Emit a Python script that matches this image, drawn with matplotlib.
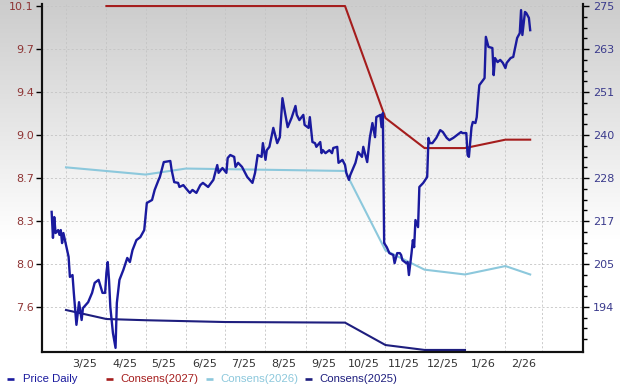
import numpy as np
import pandas as pd
import matplotlib
matplotlib.use("Agg")
import matplotlib.pyplot as plt
from matplotlib.lines import Line2D
from matplotlib.ticker import FixedLocator, NullFormatter

# ---------------- data ----------------
price_dates = [
    "2025-02-18", "2025-02-19", "2025-02-20", "2025-02-21", "2025-02-23", "2025-02-24", "2025-02-25",
    "2025-02-26", "2025-02-27", "2025-03-01", "2025-03-03", "2025-03-04", "2025-03-06", "2025-03-07",
    "2025-03-09", "2025-03-11", "2025-03-13", "2025-03-14", "2025-03-18", "2025-03-21", "2025-03-23",
    "2025-03-26", "2025-03-29", "2025-03-31", "2025-04-01", "2025-04-02", "2025-04-03", "2025-04-04",
    "2025-04-06", "2025-04-08", "2025-04-09", "2025-04-11", "2025-04-14", "2025-04-17", "2025-04-19",
    "2025-04-21", "2025-04-24", "2025-04-27", "2025-04-30", "2025-05-02", "2025-05-06", "2025-05-08",
    "2025-05-11", "2025-05-12", "2025-05-15", "2025-05-20", "2025-05-21", "2025-05-23", "2025-05-26",
    "2025-05-27", "2025-05-30", "2025-06-02", "2025-06-04", "2025-06-06", "2025-06-09", "2025-06-12",
    "2025-06-14", "2025-06-18", "2025-06-22", "2025-06-25", "2025-06-26", "2025-06-29", "2025-07-02",
    "2025-07-03", "2025-07-05", "2025-07-08", "2025-07-09", "2025-07-11", "2025-07-14", "2025-07-18",
    "2025-07-22", "2025-07-24", "2025-07-26", "2025-07-29", "2025-07-30", "2025-08-01", "2025-08-02",
    "2025-08-04", "2025-08-07", "2025-08-08", "2025-08-10", "2025-08-12", "2025-08-14", "2025-08-16",
    "2025-08-18", "2025-08-21", "2025-08-24", "2025-08-25", "2025-08-27", "2025-08-30", "2025-08-31",
    "2025-09-03", "2025-09-04", "2025-09-06", "2025-09-08", "2025-09-09", "2025-09-12", "2025-09-13",
    "2025-09-14", "2025-09-16", "2025-09-19", "2025-09-21", "2025-09-22", "2025-09-25", "2025-09-26",
    "2025-09-29", "2025-10-01", "2025-10-02", "2025-10-04", "2025-10-05", "2025-10-09", "2025-10-11",
    "2025-10-14", "2025-10-15", "2025-10-18", "2025-10-20", "2025-10-22", "2025-10-24", "2025-10-25",
    "2025-10-28", "2025-10-29", "2025-10-30", "2025-10-31", "2025-11-02", "2025-11-04", "2025-11-07",
    "2025-11-08", "2025-11-10", "2025-11-12", "2025-11-13", "2025-11-14", "2025-11-17", "2025-11-18",
    "2025-11-19", "2025-11-21", "2025-11-22", "2025-11-23", "2025-11-24", "2025-11-26", "2025-11-27",
    "2025-11-30", "2025-12-03", "2025-12-04", "2025-12-05", "2025-12-07", "2025-12-10", "2025-12-13",
    "2025-12-15", "2025-12-18", "2025-12-20", "2025-12-23", "2025-12-26", "2025-12-29", "2025-12-30",
    "2026-01-02", "2026-01-03", "2026-01-04", "2026-01-06", "2026-01-07", "2026-01-09", "2026-01-10",
    "2026-01-11", "2026-01-12", "2026-01-15", "2026-01-16", "2026-01-17", "2026-01-19", "2026-01-22",
    "2026-01-23", "2026-01-24", "2026-01-26", "2026-01-28", "2026-01-30", "2026-02-01", "2026-02-02",
    "2026-02-05", "2026-02-07", "2026-02-10", "2026-02-12", "2026-02-13", "2026-02-14", "2026-02-16",
    "2026-02-17", "2026-02-19", "2026-02-20",
]
price_values = [
    219.6, 212.6, 218.2, 213.9, 214.7, 213.4, 214.7,
    211.2, 213.9, 210.7, 207.5, 202.1, 202.6, 197.8,
    189.2, 195.3, 190.5, 193.7, 195.3, 197.8, 200.5,
    201.3, 197.8, 197.8, 203.2, 206.1, 201.3, 194.0,
    187.0, 183.0, 195.1, 201.3, 204.0, 207.2, 206.1,
    209.3, 212.0, 212.8, 214.7, 222.0, 222.8, 225.5,
    228.2, 229.0, 233.0, 233.3, 230.9, 227.6, 227.4,
    226.3, 226.8, 225.5, 224.7, 225.5, 224.7, 226.8,
    227.4, 226.3, 228.2, 232.2, 230.1, 231.4, 230.1,
    234.1, 234.9, 234.4, 231.7, 232.8, 231.7, 229.0,
    227.4, 230.1, 234.9, 234.4, 238.1, 233.6, 236.2,
    237.1, 242.2, 240.8, 238.1, 239.7, 250.2, 246.2,
    242.4, 244.9, 248.1, 245.7, 244.3, 245.7, 243.0,
    242.2, 245.1, 238.4, 238.1, 237.1, 238.4, 235.4,
    236.2, 235.4, 236.2, 235.4, 236.8, 237.1, 232.8,
    233.6, 232.2, 230.1, 228.2, 229.5, 232.8, 235.7,
    234.4, 237.1, 233.0, 239.5, 243.5, 239.7, 245.1,
    245.7, 242.4, 246.2, 211.2, 210.1, 208.5, 208.0,
    205.8, 208.5, 208.5, 208.0, 206.6, 205.8, 206.1,
    202.6, 208.5, 212.0, 210.1, 217.4, 215.5, 226.3,
    227.4, 229.0, 239.5, 238.1, 238.1, 239.5, 241.6,
    241.1, 239.5, 238.9, 239.5, 240.3, 241.1, 240.8,
    240.8, 234.9, 234.4, 242.4, 243.8, 243.5, 245.1,
    249.7, 253.7, 255.1, 255.6, 266.7, 264.0, 263.7,
    256.4, 261.0, 259.9, 260.5, 259.7, 258.3, 259.7,
    261.0, 261.3, 266.4, 267.7, 273.9, 267.2, 273.4,
    273.1, 271.8, 268.5,
]

c2027_dates = ["2025-04-01", "2025-10-01", "2025-11-01", "2025-12-01", "2026-01-01", "2026-02-01", "2026-02-20"]
c2027_values = [10.10, 10.10, 9.17, 8.92, 8.92, 8.99, 8.99]

c2026_dates = ["2025-03-01", "2025-05-01", "2025-06-01", "2025-10-01", "2025-11-01", "2025-12-01",
               "2026-01-01", "2026-02-01", "2026-02-20"]
c2026_values = [8.76, 8.70, 8.75, 8.73, 8.07, 7.91, 7.87, 7.94, 7.87]

c2025_dates = ["2025-03-01", "2025-04-01", "2025-05-01", "2025-07-01", "2025-10-01", "2025-11-01",
               "2025-12-01", "2026-01-01"]
c2025_values = [7.575, 7.50, 7.49, 7.475, 7.47, 7.284, 7.243, 7.243]

left_tick_labels = ["7.6", "8.0", "8.3", "8.7", "9.0", "9.4", "9.7", "10.1"]
right_tick_labels = ["194", "205", "217", "228", "240", "251", "263", "275"]
month_labels = ["3/25", "4/25", "5/25", "6/25", "7/25", "8/25", "9/25", "10/25", "11/25", "12/25", "1/26", "2/26"]
legend_labels = ["Price Daily", "Consens(2027)", "Consens(2026)", "Consens(2025)"]

# ---------------- style ----------------
col_price = "#1a1a9e"
col_2027 = "#a51d1d"
col_2026 = "#8cc8dc"
col_2025 = "#1e1e7e"

fig = plt.figure(figsize=(6.2, 3.87), dpi=100)

# background gradient (grey at top fading to white)
bg = fig.add_axes([0, 0, 1, 1])
rows = 387
g = np.ones(rows)
top_rows = 240
g[:top_rows] = np.linspace(0.80, 1.0, top_rows)
img = np.tile(g[:, None, None], (1, 2, 3))
bg.imshow(img, aspect="auto", extent=[0, 1, 0, 1], interpolation="bilinear", origin="upper")
bg.set_xlim(0, 1)
bg.set_ylim(0, 1)
bg.set_axis_off()

ax = fig.add_axes([42 / 620, 35 / 387, 541 / 620, 348 / 387])
ax.patch.set_alpha(0)
ax2 = ax.twinx()
ax2.patch.set_alpha(0)

ax.plot(pd.to_datetime(c2027_dates), c2027_values, color=col_2027, lw=1.5)
ax.plot(pd.to_datetime(c2026_dates), c2026_values, color=col_2026, lw=1.5)
ax.plot(pd.to_datetime(c2025_dates), c2025_values, color=col_2025, lw=1.5)
ax2.plot(pd.to_datetime(price_dates), price_values, color=col_price, lw=1.7, solid_joinstyle="round")

# limits
x0 = pd.Timestamp("2025-03-01") - pd.Timedelta(days=18.4)
x1 = pd.Timestamp("2025-03-01") + pd.Timedelta(days=396.5)
ax.set_xlim(x0, x1)
ax.set_ylim(7.226, 10.117)
ax2.set_ylim(181.89, 275.54)

lt = np.linspace(7.6, 10.1, 8)
ax.set_yticks(lt)
ax.set_yticklabels(left_tick_labels)
rt = np.linspace(194, 275, 8)
ax2.set_yticks(rt)
ax2.set_yticklabels(right_tick_labels)
step = (275 - 194) / 7
ax2.yaxis.set_minor_locator(FixedLocator([194 + step / 4 * k for k in range(-3, 29) if k % 4 != 0]))
ax2.yaxis.set_minor_formatter(NullFormatter())

# x: gridlines at month starts, labels mid-month
month_starts = pd.date_range("2025-03-01", "2026-03-01", freq="MS")
mid_months = [d + pd.Timedelta(days=14) for d in month_starts[:-1]]
ax.set_xticks(month_starts)
ax.set_xticklabels([""] * len(month_starts))
ax.set_xticks(mid_months, minor=True)
ax.set_xticklabels(month_labels, minor=True)
ax.tick_params(axis="x", which="both", length=0, labelsize=8, colors="#333333", pad=5)

ax.tick_params(axis="y", which="major", length=4, width=1, direction="out",
               labelsize=8, labelcolor="#8e3434", color="black", pad=2)
ax2.tick_params(axis="y", which="major", length=4, width=1, direction="out",
                labelsize=8, labelcolor="#3a3a8c", color="black", pad=3)
ax2.tick_params(axis="y", which="minor", length=3, width=1, direction="out", color="black")

ax.grid(True, axis="both", which="major", color="#c4c4c4", lw=0.6, ls=(0, (2.5, 2.5)))
ax.set_axisbelow(True)

for a in (ax, ax2):
    a.spines["top"].set_visible(False)
    for s in ("left", "right", "bottom"):
        a.spines[s].set_linewidth(1.5)
        a.spines[s].set_color("#111111")

for t in ax.get_yticklabels() + ax2.get_yticklabels() + ax.get_xticklabels(minor=True):
    t.set_fontfamily("DejaVu Sans")

# legend drawn along the bottom
leg_items = [
    (7, 23, col_price, legend_labels[0]),
    (106, 120, col_2027, legend_labels[1]),
    (206, 220, col_2026, legend_labels[2]),
    (305, 319, col_2025, legend_labels[3]),
]
ly = (387 - 379) / 387
for dx, tx, c, lab in leg_items:
    fig.add_artist(Line2D([dx / 620, (dx + 7) / 620], [ly, ly], color=c, lw=1.9,
                          transform=fig.transFigure, solid_capstyle="butt"))
    fig.text(tx / 620, ly, lab, color=c, fontsize=8.2, family="Liberation Sans",
             va="center", ha="left")

fig.savefig("out.png", dpi=100)
